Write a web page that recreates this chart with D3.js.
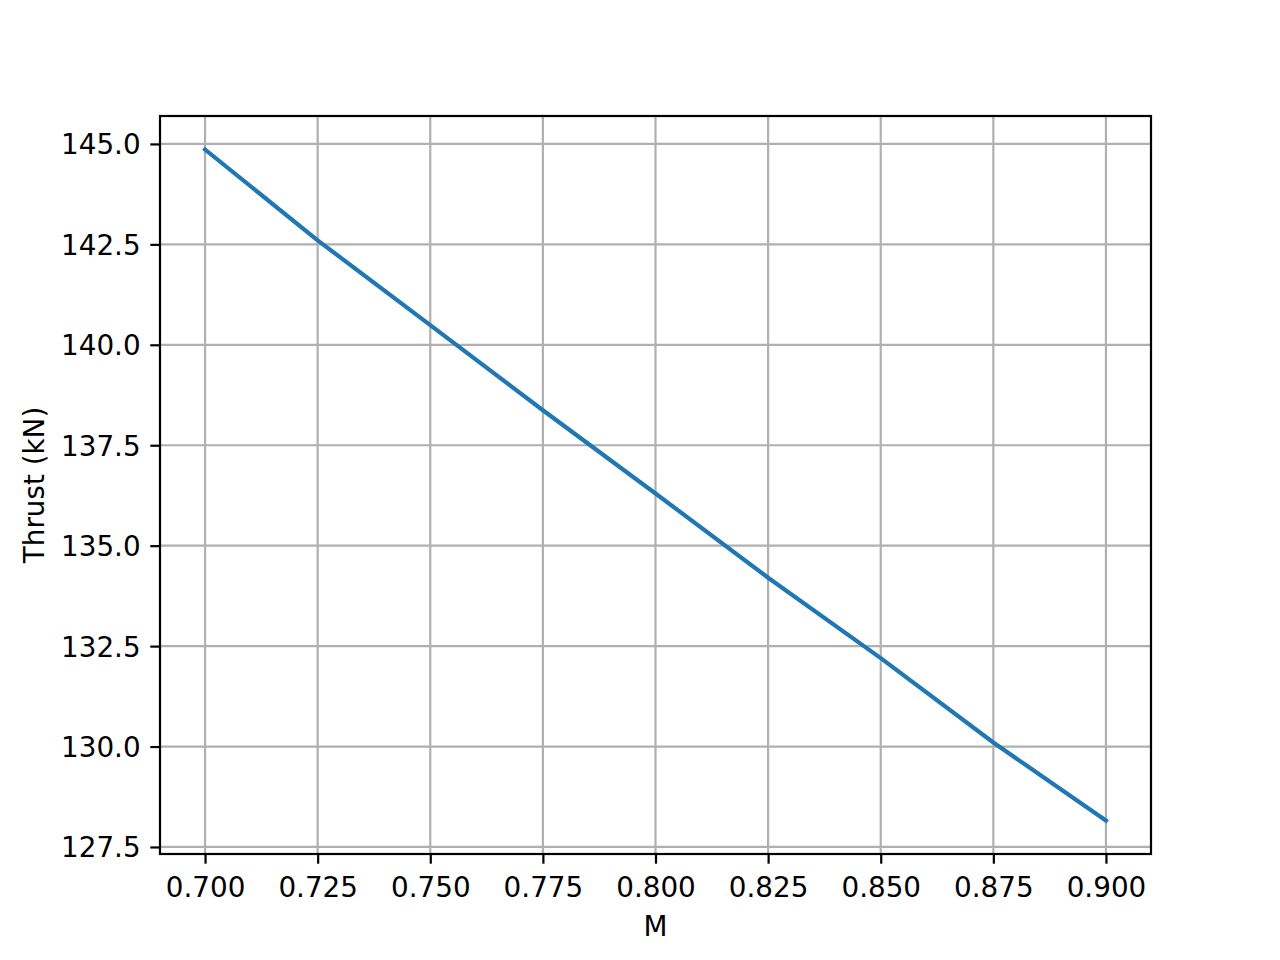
<!DOCTYPE html>
<html>
<head>
<meta charset="utf-8">
<script src="https://cdn.jsdelivr.net/npm/d3@7"></script>
<style>
  body { margin: 0; background: #fff; }
  text { font-family: "DejaVu Sans", sans-serif; fill: #000; }
</style>
</head>
<body>
<div id="chart"></div>
<script>

// Mach number vs thrust
var machValues = [0.700, 0.725, 0.750, 0.775, 0.800, 0.825, 0.850, 0.875, 0.900];
var thrustValues = [144.86, 142.60, 140.49, 138.37, 136.30, 134.20, 132.20, 130.10, 128.16];

var xTicks = [0.700, 0.725, 0.750, 0.775, 0.800, 0.825, 0.850, 0.875, 0.900];
var yTicks = [127.5, 130.0, 132.5, 135.0, 137.5, 140.0, 142.5, 145.0];

var xLabel = "M";
var yLabel = "Thrust (kN)";


function thrustChart() {

    var width = 1280;
    var height = 960;

    var margin = { left: 160, right: 129, top: 116, bottom: 106 };
    var plotW = width - margin.left - margin.right;
    var plotH = height - margin.top - margin.bottom;

    var fontPx = 27.8;
    var tickLen = 9.7;
    var pad = 9.7;

    var svg = d3.select("#chart").append("svg")
        .attr("width", width)
        .attr("height", height)

    // matplotlib style 5% margins
    var xMin = d3.min(machValues), xMax = d3.max(machValues);
    var yMin = d3.min(thrustValues), yMax = d3.max(thrustValues);
    var xm = (xMax - xMin) * 0.05;
    var ym = (yMax - yMin) * 0.05;

    var x = d3.scaleLinear()
        .domain([xMin - xm, xMax + xm])
        .range([0, plotW]);

    var y = d3.scaleLinear()
        .domain([yMin - ym, yMax + ym])
        .range([plotH, 0]);

    var g = svg.append("g")
        .attr("transform", "translate(" + margin.left + "," + margin.top + ")");

    // grid
    g.append("g").selectAll("line")
        .data(xTicks)
        .enter()
        .append("line")
        .attr("x1", d => x(d)).attr("x2", d => x(d))
        .attr("y1", 0).attr("y2", plotH)
        .attr("stroke", "#b0b0b0")
        .attr("stroke-width", 2.2)

    g.append("g").selectAll("line")
        .data(yTicks)
        .enter()
        .append("line")
        .attr("y1", d => y(d)).attr("y2", d => y(d))
        .attr("x1", 0).attr("x2", plotW)
        .attr("stroke", "#b0b0b0")
        .attr("stroke-width", 2.2)

    // data line
    var line = d3.line()
        .x((d, i) => x(machValues[i]))
        .y(d => y(d));

    g.append("path")
        .datum(thrustValues)
        .attr("d", line)
        .attr("fill", "none")
        .attr("stroke", "#1f77b4")
        .attr("stroke-width", 4.2)
        .attr("stroke-linecap", "square")
        .attr("stroke-linejoin", "round")

    // axes
    var xAxis = d3.axisBottom(x)
        .tickValues(xTicks)
        .tickFormat(d3.format(".3f"))
        .tickSize(tickLen)
        .tickPadding(pad);

    var yAxis = d3.axisLeft(y)
        .tickValues(yTicks)
        .tickFormat(d3.format(".1f"))
        .tickSize(tickLen)
        .tickPadding(pad);

    var gx = g.append("g")
        .attr("transform", "translate(0," + plotH + ")")
        .call(xAxis);

    var gy = g.append("g")
        .call(yAxis);

    [gx, gy].forEach(a => {
        a.select(".domain").remove();
        a.selectAll(".tick line").attr("stroke", "#000").attr("stroke-width", 2.2);
        a.selectAll(".tick text")
            .attr("font-size", fontPx)
            .attr("font-family", "DejaVu Sans, sans-serif")
            .attr("fill", "#000");
    });

    gx.selectAll(".tick text").attr("dy", "0.85em");
    gy.selectAll(".tick text").attr("dy", "0.36em");

    // frame
    g.append("rect")
        .attr("x", 0).attr("y", 0)
        .attr("width", plotW).attr("height", plotH)
        .attr("fill", "none")
        .attr("stroke", "#000")
        .attr("stroke-width", 2.2)

    // axis labels
    svg.append("text")
        .attr("x", margin.left + plotW / 2)
        .attr("y", 936)
        .attr("text-anchor", "middle")
        .attr("font-size", fontPx)
        .text(xLabel)

    svg.append("text")
        .attr("transform", "translate(44," + (margin.top + plotH / 2) + ") rotate(-90)")
        .attr("text-anchor", "middle")
        .attr("font-size", fontPx)
        .text(yLabel)
}

thrustChart();

</script>
</body>
</html>
